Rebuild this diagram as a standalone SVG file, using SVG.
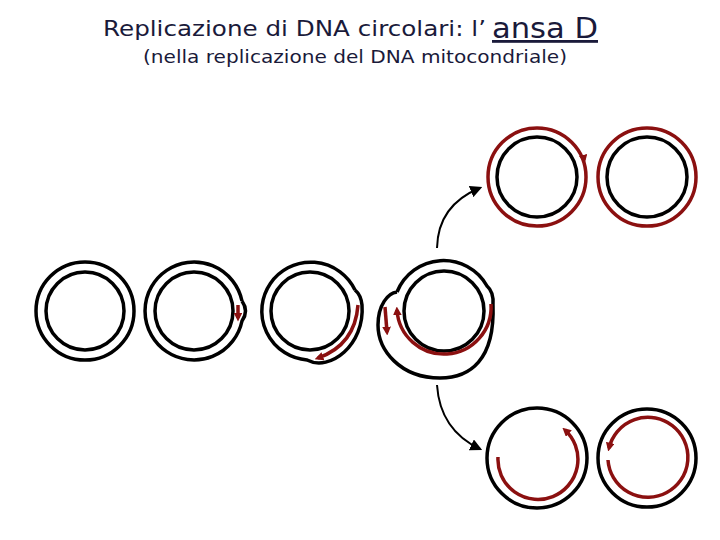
<svg xmlns="http://www.w3.org/2000/svg" width="720" height="540" viewBox="0 0 720 540">
<style>
.k{fill:none;stroke:#000;stroke-width:3.5}
.r{fill:none;stroke:#8b1010;stroke-width:3.5}
.a{fill:none;stroke:#000;stroke-width:2}
text{font-family:"DejaVu Sans",Verdana,sans-serif;fill:#1a1a3a}
</style>
<defs>
<marker id="ah" viewBox="0 0 10 10" refX="8" refY="5" markerWidth="6" markerHeight="6" orient="auto"><path d="M0,0L10,5L0,10z" fill="#000"/></marker>
<marker id="rh" viewBox="0 0 10 10" refX="6" refY="5" markerWidth="2.5" markerHeight="2.5" orient="auto"><path d="M0,0L10,5L0,10z" fill="#8b1010"/></marker>
</defs>
<text x="103" y="36" font-size="21" textLength="383" lengthAdjust="spacingAndGlyphs">Replicazione di DNA circolari: l’</text>
<text x="492" y="38" font-size="28" text-decoration="underline" textLength="106" lengthAdjust="spacingAndGlyphs">ansa D</text>
<text x="143" y="63" font-size="18" textLength="424" lengthAdjust="spacingAndGlyphs">(nella replicazione del DNA mitocondriale)</text>
<g id="c1"><circle class="k" cx="85" cy="311" r="49"/><circle class="k" cx="85" cy="311" r="39"/></g>
<g id="c2"><circle class="k" cx="194" cy="311" r="39"/><path class="k" d="M242,301 A49,49 0 1 0 242,321 Q249,311 242,301"/><path class="r" d="M238,305 L238,318" marker-end="url(#rh)"/></g>
<g id="c3"><circle class="k" cx="310" cy="311" r="39"/><path class="k" d="M355,290 A49,49 0 1 0 307,360 C330,372 365,345 362,305 Q361,295 355,290"/><path class="r" d="M358,305 Q355,345 318,358" marker-end="url(#rh)"/></g>
<g id="c4"><circle class="k" cx="444" cy="311" r="40"/><path class="k" d="M397,292 A50,50 0 0 1 487,286 Q494,292 493,305 C495,360 470,378 440,378 C400,378 378,350 378,325 C378,305 388,293 397,292"/><path class="r" d="M491,304 A47,47 0 0 1 397,310" marker-end="url(#rh)"/><path class="r" d="M385,307 L387,332" marker-end="url(#rh)"/></g>
<g id="c5"><circle class="r" cx="537" cy="177" r="49"/><circle class="k" cx="537" cy="177" r="40"/><path class="r" d="M583,155 L584,160" marker-end="url(#rh)"/></g>
<g id="c6"><circle class="r" cx="647" cy="177" r="49"/><circle class="k" cx="647" cy="177" r="40"/></g>
<g id="c7"><circle class="k" cx="537" cy="458" r="50"/><path class="r" d="M498,457 A40,40 0 1 0 565,430" marker-end="url(#rh)"/></g>
<g id="c8"><circle class="k" cx="647" cy="458" r="49"/><path class="r" d="M608,460 A40,40 0 1 0 609,448" marker-end="url(#rh)"/></g>
<g id="connectors">
<path class="a" d="M437,248 Q438,205 480,188" marker-end="url(#ah)"/>
<path class="a" d="M437,385 Q440,430 480,449" marker-end="url(#ah)"/>
</g>
</svg>
